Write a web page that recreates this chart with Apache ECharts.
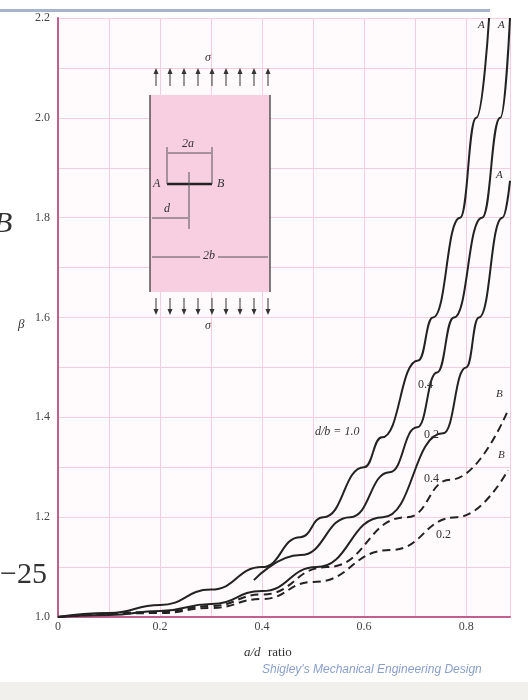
<!DOCTYPE html>
<html>
<head>
<meta charset="utf-8">
<script src="https://cdn.jsdelivr.net/npm/echarts@6/dist/echarts.min.js"></script>
<style>
html,body{margin:0;padding:0;background:#fff;}
#chart{width:528px;height:700px;}
</style>
</head>
<body>
<div id="chart"></div>
<script>
// a/d ratio vs beta
let curveA10 = [[0,1],[0.1,1.008],[0.2,1.024],[0.3,1.055],[0.4,1.1],[0.475,1.16],[0.52,1.2],[0.6,1.3],[0.635,1.36],[0.706,1.514],[0.735,1.6],[0.788,1.8],[0.82,2.0],[0.845,2.2]];
let curveA04 = [[0.384,1.074],[0.475,1.124],[0.573,1.2],[0.65,1.29],[0.704,1.38],[0.743,1.49],[0.776,1.6],[0.831,1.8],[0.867,2.0],[0.886,2.2]];
let curveA02 = [[0,1],[0.1,1.004],[0.2,1.012],[0.3,1.026],[0.4,1.052],[0.507,1.1],[0.637,1.2],[0.755,1.368],[0.8,1.5],[0.825,1.6],[0.871,1.8],[0.886,1.874]];
let curveB04 = [[0,1],[0.2,1.01],[0.3,1.022],[0.4,1.045],[0.527,1.1],[0.684,1.2],[0.769,1.275],[0.882,1.414]];
let curveB02 = [[0,1],[0.2,1.008],[0.3,1.018],[0.4,1.036],[0.5,1.07],[0.651,1.134],[0.782,1.2],[0.882,1.294]];

let chart = echarts.init(document.getElementById("chart"));
let serif = "Liberation Serif";
let pink = "#f6cde0";
let ink = "#333";

function line(data, dashed){
	return {
		type:"line", data:data, smooth:0.5, smoothMonotone:"x", symbol:"none", silent:true,
		lineStyle:{color:"#222", width:2, type: dashed ? [8,5] : "solid"}
	};
}
function txt(x, y, s, size, style){
	return {type:"text", x:x, y:y, z:10, style:{text:s, fill:ink, font:(style||"") + " " + (size||12) + "px " + serif}};
}
function seg(x1, y1, x2, y2, w, c){
	return {type:"line", z:6, shape:{x1:x1,y1:y1,x2:x2,y2:y2}, style:{stroke:c||"#555",lineWidth:w||1}};
}
function arrowUp(x){
	return [seg(x,86,x,72,1,ink), {type:"polygon", z:6, shape:{points:[[x-2.5,74],[x+2.5,74],[x,68]]}, style:{fill:ink}}];
}
function arrowDown(x){
	return [seg(x,298,x,311,1,ink), {type:"polygon", z:6, shape:{points:[[x-2.5,309],[x+2.5,309],[x,315]]}, style:{fill:ink}}];
}

let graphics = [
	{type:"rect", shape:{x:0,y:9,width:490,height:3}, style:{fill:"#a9b3d0"}},
	{type:"rect", shape:{x:0,y:682,width:528,height:18}, style:{fill:"#f1f0ed"}},
	{type:"rect", z:5, shape:{x:150,y:95,width:120,height:197}, style:{fill:"#f7cfe0"}},
	seg(150,95,150,292,1.5), seg(270,95,270,292,1.5),
	txt(205, 52, "σ", 12, "italic"),
	txt(205, 320, "σ", 12, "italic"),
	seg(167,184,212,184,2.5,"#222"),
	seg(167,147,167,184), seg(212,147,212,184), seg(168,153,211,153),
	seg(189,172,189,229), seg(152,218,188,218), seg(152,257,268,257),
	txt(182, 138, "2a", 12, "italic"),
	txt(153, 178, "A", 12, "italic"),
	txt(217, 178, "B", 12, "italic"),
	txt(164, 203, "d", 12, "italic"),
	{type:"text", x:200, y:250, z:11, style:{text:"2b", fill:ink, font:"italic 12px " + serif, backgroundColor:"#f7cfe0", padding:[0,3]}},
	txt(478, 20, "A", 11, "italic"),
	txt(498, 20, "A", 11, "italic"),
	txt(496, 170, "A", 11, "italic"),
	txt(418, 379, "0.4", 12),
	txt(315, 426, "d/b = 1.0", 12, "italic"),
	txt(424, 429, "0.2", 12),
	txt(424, 473, "0.4", 12),
	txt(436, 529, "0.2", 12),
	txt(496, 389, "B", 11, "italic"),
	txt(498, 450, "B", 11, "italic"),
	txt(18, 318, "β", 13, "italic"),
	txt(-6, 209, "B", 30, "italic"),
	txt(0, 560, "−25", 30),
	txt(-14, 128, "o", 30),
	txt(244, 646, "a/d", 13, "italic"),
	txt(268, 646, "ratio", 13),
	{type:"text", x:262, y:664, style:{text:"Shigley's Mechanical Engineering Design", fill:"#8aa0c8", font:"italic 12px Liberation Sans"}}
];
[156,170,184,198,212,226,240,254,268].forEach(function(x){ graphics = graphics.concat(arrowUp(x), arrowDown(x)); });

let opt = {
	backgroundColor:"#fff",
	animation:false,
	grid:{left:58, right:18, top:18, bottom:83, backgroundColor:"#fffafc", show:true, borderWidth:0},
	xAxis:{
		type:"value", min:0, max:0.886, interval:0.1,
		axisLine:{show:true, lineStyle:{color:"#c06090", width:2}},
		axisTick:{show:false},
		splitLine:{lineStyle:{color:pink, width:1}},
		axisLabel:{color:"#444", fontFamily:serif, fontSize:12, margin:4, showMaxLabel:false,
			formatter:function(v){ let r = Math.round(v*10); return r % 2 === 0 ? (r === 0 ? "0" : v.toFixed(1)) : ""; }}
	},
	yAxis:{
		type:"value", min:1.0, max:2.2, interval:0.1,
		axisLine:{show:true, lineStyle:{color:"#c06090", width:2}},
		axisTick:{show:false},
		splitLine:{lineStyle:{color:pink, width:1}},
		axisLabel:{color:"#444", fontFamily:serif, fontSize:12, margin:8,
			formatter:function(v){ let r = Math.round(v*10); return r % 2 === 0 ? v.toFixed(1) : ""; }}
	},
	series:[line(curveA10,false), line(curveA04,false), line(curveA02,false), line(curveB04,true), line(curveB02,true)],
	graphic:graphics
};
chart.setOption(opt);
</script>
</body>
</html>
